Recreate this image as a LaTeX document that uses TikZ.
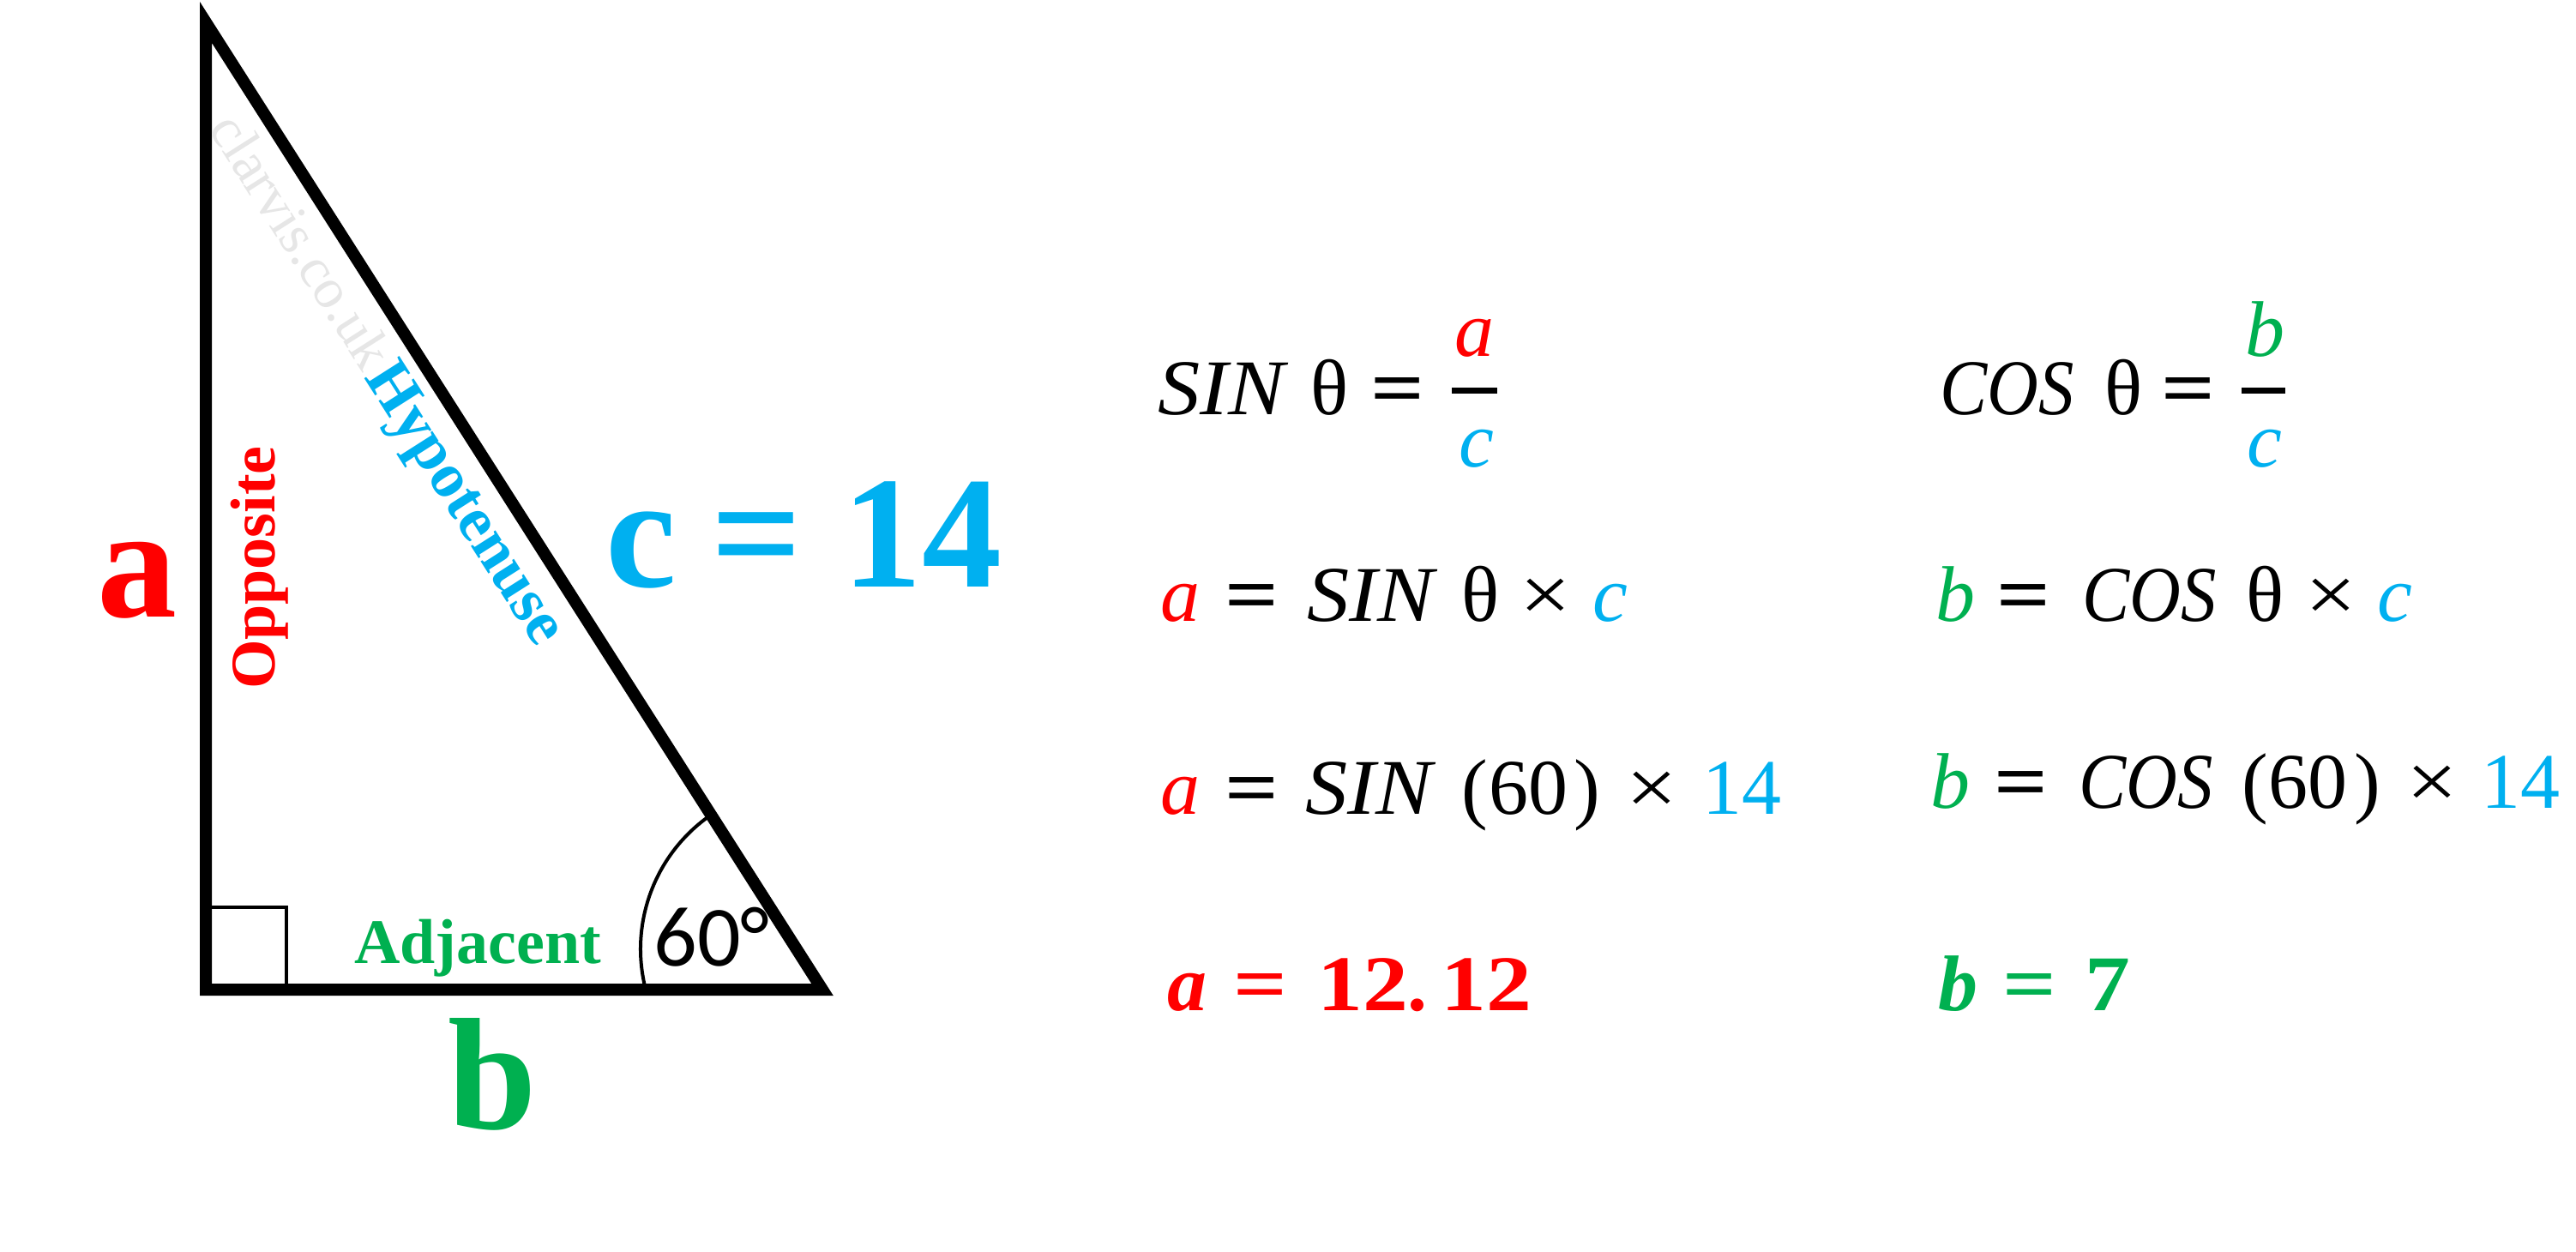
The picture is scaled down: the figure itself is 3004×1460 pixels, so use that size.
\documentclass[tikz,border=0pt]{standalone}
\usepackage{fontspec}
\usepackage{graphicx}
\setmainfont{Liberation Serif}
\newfontfamily\calib{Carlito}
\definecolor{myred}{HTML}{FF0000}
\definecolor{mygreen}{HTML}{00B050}
\definecolor{myblue}{HTML}{00B0F0}
\definecolor{wmgray}{HTML}{E6E6E6}
\newdimen\upx \upx=0.5pt
\newcommand{\tk}[3][0]{\makebox[0pt][l]{\hspace*{#2\upx}\raisebox{#1\upx}{#3}}}
\newcommand{\fbar}[1]{\rule[24\upx]{#1\upx}{7\upx}}
\newcommand{\eqs}{\scalebox{1.2}[1]{\bfseries =}}
\newcommand{\tms}{\scalebox{1.15}[1]{×}}
\newcommand{\vw}[2]{\scalebox{#1}[1]{\textit{#2}}}
\newcommand{\dg}[1]{\scalebox{1.15}[1]{#1}}
\begin{document}
\begin{tikzpicture}[x=0.5pt,y=0.5pt,
  big/.style={font=\fontsize{93pt}{100pt}\selectfont\bfseries, inner sep=0, anchor=base},
  side/.style={font=\fontsize{37pt}{40pt}\selectfont\bfseries, inner sep=0},
  eq/.style={font=\fontsize{46pt}{50pt}\selectfont, inner sep=0, anchor=base west},
  edge/.style={line width=7pt, line join=miter},
  thin/.style={line width=2pt}]
\fill[white] (0,0) rectangle (3004,-1460);
\useasboundingbox (0,0) rectangle (3004,-1460);
% triangle
\coordinate (A) at (240,-26);
\coordinate (C) at (240,-1154);
\coordinate (B) at (959,-1154);
\coordinate (sq) at (334,-1058);
\coordinate (arcS) at (828,-951);
\draw[thin] (C) rectangle (sq);
\draw[thin] (arcS) arc[start angle=125, end angle=193, radius=190];
\draw[edge] (A) -- (C) -- (B) -- cycle;
% watermark
\node[font=\fontsize{33pt}{34pt}\selectfont, text=wmgray, rotate=-57.5, inner sep=0] (wm) at (352,-281) {clarvis.co.uk};
% side labels
\node[side, text=myblue, rotate=-57.5] (hyp) at (539,-590) {Hypotenuse};
\node[side, text=myred, rotate=90] (opp) at (303,-662) {Opposite};
\node[side, text=mygreen, anchor=base west] (adj) at (413,-1123) {Adjacent};
\node[font=\calib\fontsize{50pt}{52pt}\selectfont, inner sep=0, anchor=base west] (ang) at (762,-1126) {60°};
% big labels
\node[big, text=myred] (la) at (160,-719) {a};
\node[big, text=mygreen] (lb) at (574,-1316) {b};
\node[big, text=myblue, anchor=base west] (lc) at (705,-684) {\tk{0}{c}\tk{123}{=}\tk{276}{14}};
% equations row 1
\node[eq] (r1l) at (1349,-483) {\tk{0}{\vw{1.07}{SIN}}\tk{178}{θ}\tk{248}{\eqs}\tk{343}{\fbar{53}}\tk[68]{346}{\textcolor{myred}{\textit{a}}}\tk[-62]{351}{\textcolor{myblue}{\textit{c}}}};
\node[eq] (r1r) at (2261,-483) {\tk{0}{\vw{0.9}{COS}}\tk{192}{θ}\tk{258}{\eqs}\tk{352}{\fbar{51}}\tk[68]{356}{\textcolor{mygreen}{\textit{b}}}\tk[-62]{358}{\textcolor{myblue}{\textit{c}}}};
% row 2
\node[eq] (r2l) at (1352,-724) {\tk{0}{\textcolor{myred}{\textit{a}}}\tk{75}{\eqs}\tk{171}{\vw{1.07}{SIN}}\tk{351}{θ}\tk{419}{\tms}\tk{504}{\textcolor{myblue}{\textit{c}}}};
\node[eq] (r2r) at (2256,-724) {\tk{0}{\textcolor{mygreen}{\textit{b}}}\tk{71}{\eqs}\tk{171}{\vw{0.9}{COS}}\tk{362}{θ}\tk{431}{\tms}\tk{515}{\textcolor{myblue}{\textit{c}}}};
% row 3
\node[eq] (r3l) at (1352,-949) {\tk{0}{\textcolor{myred}{\textit{a}}}\tk{75}{\eqs}\tk{169}{\vw{1.07}{SIN}}\tk{351}{(}\tk{383}{60}\tk{482}{)}\tk{543}{\tms}\tk{632}{\textcolor{myblue}{14}}};
\node[eq] (r3r) at (2250,-942) {\tk{0}{\textcolor{mygreen}{\textit{b}}}\tk{74}{\eqs}\tk{173}{\vw{0.9}{COS}}\tk{363}{(}\tk{394}{60}\tk{494}{)}\tk{555}{\tms}\tk{642}{\textcolor{myblue}{14}}};
% row 4
\node[eq, font=\fontsize{46pt}{50pt}\selectfont\bfseries, text=myred] (r4l) at (1360,-1178) {\tk{0}{\textit{a}}\tk{77}{\eqs}\tk{175}{\dg{12}}\tk{280}{.}\tk{319}{\dg{12}}};
\node[eq, font=\fontsize{46pt}{50pt}\selectfont\bfseries, text=mygreen] (r4r) at (2259,-1178) {\tk{0}{\textit{b}}\tk{75}{\eqs}\tk{171}{\dg{7}}};
\end{tikzpicture}
\end{document}
